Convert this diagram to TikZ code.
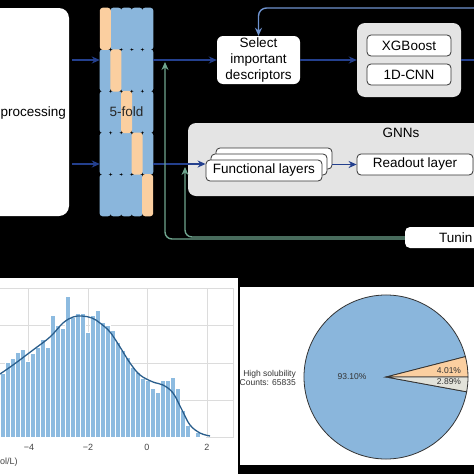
\documentclass[tikz,border=0pt]{standalone}
\usepackage{fontspec}
\setmainfont{Liberation Sans}
\usetikzlibrary{arrows.meta,calc}
\definecolor{navy}{HTML}{24408E}
\definecolor{lblue}{HTML}{6F93CF}
\definecolor{sage}{HTML}{6FA58E}
\definecolor{cellblue}{HTML}{8AB6DC}
\definecolor{cellorange}{HTML}{FBCFA0}
\definecolor{panelgray}{HTML}{E4E4E4}
\definecolor{histblue}{HTML}{8DBBE0}
\definecolor{kdeblue}{HTML}{2A5E8C}
\definecolor{gridgray}{HTML}{DCDCDC}
\definecolor{piegray}{HTML}{E2E2DA}
\definecolor{edgegray}{HTML}{333333}
\definecolor{ticktext}{HTML}{444444}
\begin{document}
\begin{tikzpicture}[x=1pt,y=-1pt,
  font=\fontsize{13.5}{16}\selectfont,
  navyarrow/.style={draw=navy, line width=1.4pt, -{Stealth[length=8pt,width=7pt]}},
  garrow/.style={draw=sage, line width=1.4pt, -{Stealth[length=8pt,width=7pt]}},
  whitebox/.style={fill=white, inner sep=0pt},
  graybox/.style={fill=panelgray, rounded corners=8pt, inner sep=0pt},
  wbox/.style={fill=white, draw=edgegray, line width=0.8pt, rounded corners=4pt, minimum width=84pt, minimum height=21pt, inner sep=0pt},
  ticklabel/.style={font=\fontsize{9}{10}\selectfont, text=ticktext, inner sep=0pt},
  pielabel/.style={font=\fontsize{8.5}{9}\selectfont, text=edgegray, inner sep=0pt}
]
\useasboundingbox (0,0) rectangle (474,474);
\fill[black] (0,0) rectangle (474,474);
\clip (0,0) rectangle (474,474);

% ---------- preprocessing box ----------
\node[whitebox, rounded corners=10pt, minimum width=90pt, minimum height=208pt] (prep) at (24,112) {};
\node[anchor=east, inner sep=0pt] (proctext) at (66,113) {processing};

% ---------- 5-fold column ----------
\foreach \r in {0,...,4}{
  \pgfmathsetmacro{\ya}{8+\r*41.6+3}
  \fill[cellblue] (102,\ya) rectangle (151,{\ya+35.6});
  \foreach \c in {0,...,4}{
    \pgfmathsetmacro{\xa}{100+\c*10.6-0.4}
    \pgfmathsetmacro{\yb}{8+\r*41.6-0.3}
    \ifnum\r=\c\else
    \fill[cellblue, rounded corners=3pt] (\xa,\yb) rectangle ++(11.4,42.2);
    \fi
  }
}
\foreach \r in {0,...,4}{
    \pgfmathsetmacro{\xa}{100+\r*10.6-0.2}
    \pgfmathsetmacro{\ya}{8+\r*41.6-0.3}
    \fill[cellorange, rounded corners=3pt] (\xa,\ya) rectangle ++(11,42.2);
}
\node[minimum width=53pt, minimum height=208pt, inner sep=0pt, text=black!85] (fold) at (126.5,112) {5-fold};

\coordinate (r1) at (0,60);
\coordinate (r2) at (0,164);

% ---------- select / xgboost ----------
\node[whitebox, rounded corners=6pt, minimum width=83pt, minimum height=48pt, align=center] (sel) at (258.5,60) {Select\\important\\descriptors};
\node[graybox, minimum width=104pt, minimum height=74pt] (xgc) at (409,60) {};
\node[wbox] (xgb) at (409,45.5) {XGBoost};
\node[wbox] (cnn) at (409,74.5) {1D-CNN};
\coordinate (outR) at (476,60);
\coordinate (topR) at (476,8);

% ---------- GNNs ----------
\node[graybox, minimum width=302pt, minimum height=73pt] (gnn) at (339,159.5) {};
\node[inner sep=0pt] (gnnlabel) at (401,133) {GNNs};
\node[wbox, minimum width=116pt] (fl3) at (274,158.5) {};
\node[wbox, minimum width=116pt] (fl2) at (269,164.5) {};
\node[wbox, minimum width=116pt] (fl1) at (264,170.5) {Functional layers};
\node[wbox, minimum width=116pt] (ro) at (415,164.5) {Readout layer};

% ---------- Tuning ----------
\node[whitebox, rounded corners=5pt, minimum width=95pt, minimum height=21pt] (tune) at (452.5,237.5) {};
\node[anchor=west, inner sep=0pt] (tunetext) at (439,238) {Tunin};
\coordinate (g1) at (165,62);
\coordinate (g2) at (185,167);

% ---------- connectors ----------
\draw[navyarrow, shorten <=3pt] (prep.east |- r1) -- (fold.west |- r1);
\draw[navyarrow, shorten <=3pt] (prep.east |- r2) -- (fold.west |- r2);
\draw[navyarrow] (fold.east |- r1) -- (sel.west);
\draw[navyarrow] (fold.east |- r2) -- (fl1.west |- r2);
\draw[navyarrow] (sel.east) -- (xgc.west);
\draw[navy, line width=1.4pt] (xgc.east) -- (outR);
\draw[navyarrow] (fl3.east |- ro.west) -- (ro.west);
\draw[lblue, line width=1.4pt, rounded corners=8pt, -{Stealth[length=8pt,width=7pt]}] (topR) -| (sel.north);
\draw[garrow, rounded corners=7pt] ([yshift=-1.5pt]tune.west) -| (g1);
\draw[garrow, rounded corners=7pt] ([yshift=0.5pt]tune.west) -| (g2);

% ---------- histogram panel ----------
\fill[white] (0,278) rectangle (238,474);
\foreach \gx in {28,88,147,207}{
  \draw[gridgray, line width=0.8pt] (\gx,288) -- (\gx,437);
}
\foreach \gy in {325,363,400}{
  \draw[gridgray, line width=0.8pt] (-2,\gy) -- (233,\gy);
}
\draw[gridgray, line width=0.8pt] (-2,288) -- (233,288) -- (233,437) -- (-2,437);
\foreach \i/\t in {0/373,1/362,2/358,3/352,4/349,5/361,6/353,7/347,8/339,9/347,
  10/315,11/325,12/328,13/296,14/317,15/313,16/313,17/332,18/315,19/310,
  20/322,21/325,22/330,23/342,24/350,25/357,26/367,27/372,28/378,29/380,
  30/388,31/392,32/380,33/380,34/377,35/388,36/410,37/425,38/436,39/432,40/436}{
  \draw[fill=histblue, draw=white, line width=0.5pt] ({\i*5},\t) rectangle ({\i*5+5},437);
}
\draw[kdeblue, line width=1.3pt] plot[smooth, tension=0.6] coordinates {(0,374) (13,365) (33,350) (50,337) (63,323) (73,317) (82,316) (92,318) (100,323) (110,332) (120,347) (130,363) (140,375) (153,382) (163,385) (173,393) (182,410) (190,425) (200,433) (210,436)};
\node[ticklabel] (tm4) at (29,447) {−4};
\node[ticklabel] (tm2) at (88,447) {−2};
\node[ticklabel] (t0) at (147,447) {0};
\node[ticklabel] (t2) at (207,447) {2};
\node[ticklabel, anchor=west] (xlab) at (0,462) {ol/L)};

% ---------- pie panel ----------
\fill[white] (240,287) rectangle (474,465);
\coordinate (pc) at (386,377);
\draw[fill=cellblue, draw=edgegray, line width=0.8pt] (pc) -- ++(14.4:82pt) arc[start angle=14.4, end angle=349.6, radius=82pt] -- cycle;
\draw[fill=cellorange, draw=edgegray, line width=0.8pt] (pc) -- ++(0:82pt) arc[start angle=0, end angle=14.4, radius=82pt] -- cycle;
\draw[fill=piegray, draw=edgegray, line width=0.8pt] (pc) -- ++(-10.4:82pt) arc[start angle=-10.4, end angle=0, radius=82pt] -- cycle;
\node[pielabel] (p1) at (352,377) {93.10\%};
\node[pielabel] (p2) at (449,371) {4.01\%};
\node[pielabel] (p3) at (449,382) {2.89\%};
\node[pielabel, align=right, anchor=east] (hs) at (296,378) {High solubility\\Counts: 65835};
\end{tikzpicture}
\end{document}
